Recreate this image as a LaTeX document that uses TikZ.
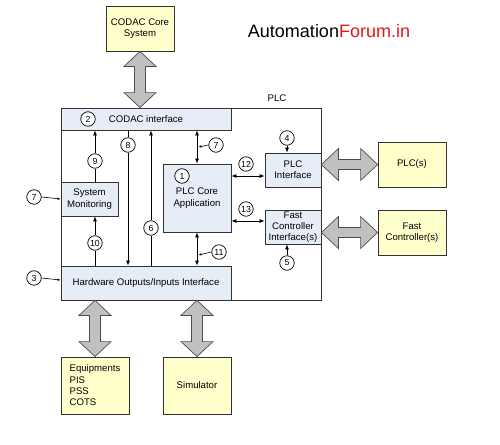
\documentclass[tikz,border=0pt]{standalone}
\usepackage{fontspec}
\setmainfont{Liberation Sans}
\usetikzlibrary{arrows.meta,calc,positioning}

\definecolor{boxyellow}{HTML}{FFFFCC}
\definecolor{boxblue}{HTML}{E6EDF7}
\definecolor{fatgray}{HTML}{C0C0C0}
\definecolor{forumred}{HTML}{E8141C}

\tikzset{
		plcdiagram/.style={
			x=1pt, y=-1pt,
			every node/.style={font=\fontsize{9.6}{11.3}\selectfont}
		},
		box/.style={draw=black!80, line width=0.8pt, align=center, inner sep=1pt},
		extbox/.style={box, fill=boxyellow, minimum width=68pt, minimum height=45pt},
		intbox/.style={box, fill=boxblue},
		num/.style={circle, draw, fill=white, minimum size=14.5pt, inner sep=0pt,
			line width=0.7pt, font=\fontsize{8.8}{10}\selectfont},
		arr/.style={-{Latex[length=5pt,width=4pt]}, line width=0.7pt},
		darr/.style={{Latex[length=5pt,width=4pt]}-{Latex[length=5pt,width=4pt]}, line width=0.7pt},
		pinline/.style={-{Latex[length=3pt,width=2.5pt]}, line width=0.6pt},
		fatarrow/.style={draw=black!70, fill=fatgray, line width=0.7pt}
	}

% fat double arrows: vertical (top, bottom) and horizontal (left, right)
\newcommand\fatv[2]{%
	\draw[fatarrow] let \p1=(#1), \p2=(#2) in
		(\x1,\y1) -- (\x1+16pt,\y1-15pt) -- (\x1+5.5pt,\y1-15pt) -- (\x1+5.5pt,\y2+15pt)
		-- (\x1+16pt,\y2+15pt) -- (\x1,\y2) -- (\x1-16pt,\y2+15pt) -- (\x1-5.5pt,\y2+15pt)
		-- (\x1-5.5pt,\y1-15pt) -- (\x1-16pt,\y1-15pt) -- cycle;}
\newcommand\fath[2]{%
	\draw[fatarrow] let \p1=(#1), \p2=(#2) in
		(\x1,\y1) -- (\x1+17pt,\y1+16pt) -- (\x1+17pt,\y1+5pt) -- (\x2-17pt,\y1+5pt)
		-- (\x2-17pt,\y1+16pt) -- (\x2,\y1) -- (\x2-17pt,\y1-16pt) -- (\x2-17pt,\y1-5pt)
		-- (\x1+17pt,\y1-5pt) -- (\x1+17pt,\y1-16pt) -- cycle;}

\begin{document}
\begin{tikzpicture}[plcdiagram]
				\useasboundingbox (0,0) rectangle (500,444);
				\node (title) at (329,31) {\fontsize{18}{20}\selectfont Automation\textcolor{forumred}{Forum.in}};

				% PLC frame and its parts
				\node[box, minimum width=260pt, minimum height=192pt] (plcbox) at (191,204) {};
				\node (plclabel) at (277,98) {PLC};
				\node[intbox, minimum width=170pt, minimum height=22pt] (codac) at (146,119) {CODAC interface};
				\node[intbox, minimum width=170pt, minimum height=34pt] (hw) at (146,283) {Hardware Outputs/Inputs Interface};
				\node[intbox, minimum width=57pt, minimum height=34pt] (sysmon) at (89.5,199) {System\\Monitoring};
				\node[intbox, minimum width=68pt, minimum height=68pt] (core) at (197,198) {PLC Core\\Application};
				\node[intbox, minimum width=56pt, minimum height=34pt] (plcif) at (293,170) {PLC\\Interface};
				\node[intbox, minimum width=56pt, minimum height=34pt] (fastif) at (293,227) {Fast\\Controller\\Interface(s)};

				% outside systems
				\node[extbox] (codaccore) at (140,28.5) {CODAC Core\\System};
				\node[extbox] (plcs) at (412,164.5) {PLC(s)};
				\node[extbox] (fastctl) at (412,232.5) {Fast\\Controller(s)};
				\node[extbox, minimum height=57pt, align=left] (equip) at (95,385.5) {Equipments\\PIS\\PSS\\COTS};
				\node[extbox, minimum height=57pt] (sim) at (197,385.5) {Simulator};

				\fatv{codaccore.south}{plcbox.north -| codaccore.south}
				\fatv{hw.south -| equip.north}{equip.north}
				\fatv{hw.south -| sim.north}{sim.north}
				\fath{plcs.west -| plcif.east}{plcs.west}
				\fath{fastctl.west -| fastif.east}{fastctl.west}

				% numbered links
				\node[num] (n1) at (182,176) {1};
				\node[num] (n2) at (88,119) {2};
				\node[num] (n3) at (34,278) {3};
				\node[num] (n4) at (287,138) {4};
				\node[num] (n5) at (287,263) {5};
				\node[num] (n6) at (151,228) {6};
				\node[num] (n7a) at (216,145) {7};
				\node[num] (n7b) at (34,197) {7};
				\node[num] (n8) at (128,145) {8};
				\node[num] (n9) at (95,161) {9};
				\node[num] (n10) at (95,243) {10};
				\node[num] (n11) at (219,252) {11};
				\node[num] (n12) at (246,164) {12};
				\node[num] (n13) at (246,209) {13};

				\draw[line width=0.7pt] (sysmon.north -| n9) -- (n9);
				\draw[arr] (n9) -- (codac.south -| n9);
				\draw[line width=0.7pt] (hw.north -| n10) -- (n10);
				\draw[arr] (n10) -- (sysmon.south -| n10);
				\draw[line width=0.7pt] (codac.south -| n8) -- (n8);
				\draw[arr] (n8) -- (hw.north -| n8);
				\draw[line width=0.7pt] (hw.north -| n6) -- (n6);
				\draw[arr] (n6) -- (codac.south -| n6);
				\draw[darr] (core.north |- codac.south) -- (core.north);
				\draw[darr] (core.south) -- (core.south |- hw.north);
				\draw[darr] ([yshift=-6pt]core.east |- plcif.west) -- ([yshift=-6pt]plcif.west);
				\draw[darr] ([yshift=6pt]core.east |- fastif.west) -- ([yshift=6pt]fastif.west);
				\draw[arr] (n4) -- (plcif.north -| n4);
				\draw[arr] (n5) -- (fastif.south -| n5);

				\draw[pinline] (n7a.west) -- ([xshift=1.5pt,yshift=-2pt]core.north |- n7a);
				\draw[pinline] (n11.west) -- ([xshift=1.5pt,yshift=-3pt]core.south |- n11);
				\draw[pinline] (n7b.east) -- ([yshift=-2pt]sysmon.west |- n7b);
				\draw[pinline] (n3.east) -- ([yshift=-2pt]hw.west |- n3);
			\end{tikzpicture}
\end{document}
